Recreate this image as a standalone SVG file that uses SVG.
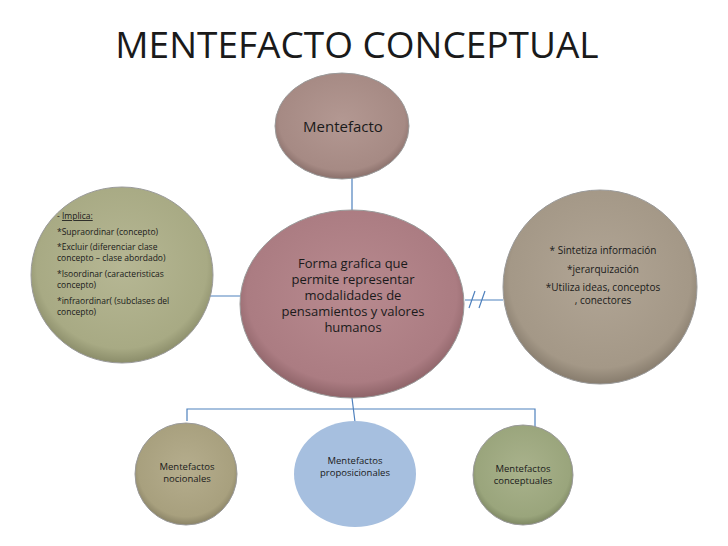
<svg xmlns="http://www.w3.org/2000/svg" width="728" height="546" viewBox="0 0 728 546">
<defs>
<radialGradient id="gTop" cx="50%" cy="45%" r="55%"><stop offset="0" stop-color="#b39892"/><stop offset="0.85" stop-color="#a68a84"/><stop offset="1" stop-color="#8a706b"/></radialGradient>
<radialGradient id="gCenter" cx="50%" cy="45%" r="55%"><stop offset="0" stop-color="#b88a8f"/><stop offset="0.85" stop-color="#ab7c82"/><stop offset="1" stop-color="#8e6368"/></radialGradient>
<radialGradient id="gLeft" cx="50%" cy="45%" r="55%"><stop offset="0" stop-color="#b6b794"/><stop offset="0.85" stop-color="#a8aa84"/><stop offset="1" stop-color="#8b8d6a"/></radialGradient>
<radialGradient id="gRight" cx="50%" cy="45%" r="55%"><stop offset="0" stop-color="#b1a595"/><stop offset="0.85" stop-color="#a49887"/><stop offset="1" stop-color="#877c6d"/></radialGradient>
<radialGradient id="gBL" cx="50%" cy="45%" r="55%"><stop offset="0" stop-color="#b5ad8d"/><stop offset="0.85" stop-color="#a8a07e"/><stop offset="1" stop-color="#8a8366"/></radialGradient>
<radialGradient id="gBR" cx="50%" cy="45%" r="55%"><stop offset="0" stop-color="#a9b28c"/><stop offset="0.85" stop-color="#9aa57c"/><stop offset="1" stop-color="#7e8863"/></radialGradient>
</defs>
<style>
.t{font-family:"Open Sans","Noto Sans","Liberation Sans",sans-serif;fill:#1a1a1a}
.c{stroke:#9a9a9a;stroke-width:1}
.ln{stroke:#4f81bd;stroke-width:1.2;fill:none}
</style>
<rect width="728" height="546" fill="#fff"/>
<text class="t" x="357" y="58" font-size="37" text-anchor="middle">MENTEFACTO CONCEPTUAL</text>
<g id="connectors">
<path class="ln" d="M352 178V210M187 421V409H535V428M352 398L355 422M205 296H240M465 300H503M469 308L475 291M479 308L485 291"/>
</g>
<g id="top"><ellipse class="c" cx="342" cy="126" rx="67" ry="53" fill="url(#gTop)"/><text class="t" x="343" y="132" font-size="15" text-anchor="middle">Mentefacto</text></g>
<g id="left"><ellipse class="c" cx="122" cy="275" rx="91" ry="88" fill="url(#gLeft)"/>
<g class="t" font-size="8.5"><text x="57" y="219">- <tspan text-decoration="underline">Implica:</tspan></text>
<text x="57" y="235">*Supraordinar (concepto)</text>
<text x="57" y="250">*Excluir (diferenciar clase</text><text x="57" y="261">concepto – clase abordado)</text>
<text x="57" y="277">*Isoordinar (caracteristicas</text><text x="57" y="288">concepto)</text>
<text x="57" y="304">*infraordinar( (subclases del</text><text x="57" y="315">concepto)</text></g></g>
<g id="right"><ellipse class="c" cx="600" cy="287" rx="97" ry="97" fill="url(#gRight)"/>
<g class="t" font-size="10" text-anchor="middle"><text x="603" y="254">* Sintetiza información</text><text x="603" y="273">*jerarquización</text><text x="603" y="291">*Utiliza  ideas, conceptos</text><text x="603" y="304">, conectores</text></g></g>
<g id="center"><ellipse class="c" cx="352" cy="304" rx="112" ry="94" fill="url(#gCenter)"/>
<g class="t" font-size="13" text-anchor="middle"><text x="353" y="268">Forma grafica que</text><text x="353" y="284">permite representar</text><text x="353" y="300">modalidades de</text><text x="353" y="316">pensamientos y valores</text><text x="353" y="332">humanos</text></g></g>
<g id="bl"><circle class="c" cx="186" cy="474" r="51" fill="url(#gBL)"/><g class="t" font-size="9.5" text-anchor="middle"><text x="187" y="470">Mentefactos</text><text x="187" y="482">nocionales</text></g></g>
<g id="bm"><ellipse cx="355" cy="474" rx="61" ry="53" fill="#a6bfdf"/><g class="t" font-size="9.5" text-anchor="middle"><text x="355" y="464">Mentefactos</text><text x="355" y="476">proposicionales</text></g></g>
<g id="br"><circle class="c" cx="523" cy="475" r="50" fill="url(#gBR)"/><g class="t" font-size="9.5" text-anchor="middle"><text x="523" y="472">Mentefactos</text><text x="523" y="484">conceptuales</text></g></g>
</svg>
